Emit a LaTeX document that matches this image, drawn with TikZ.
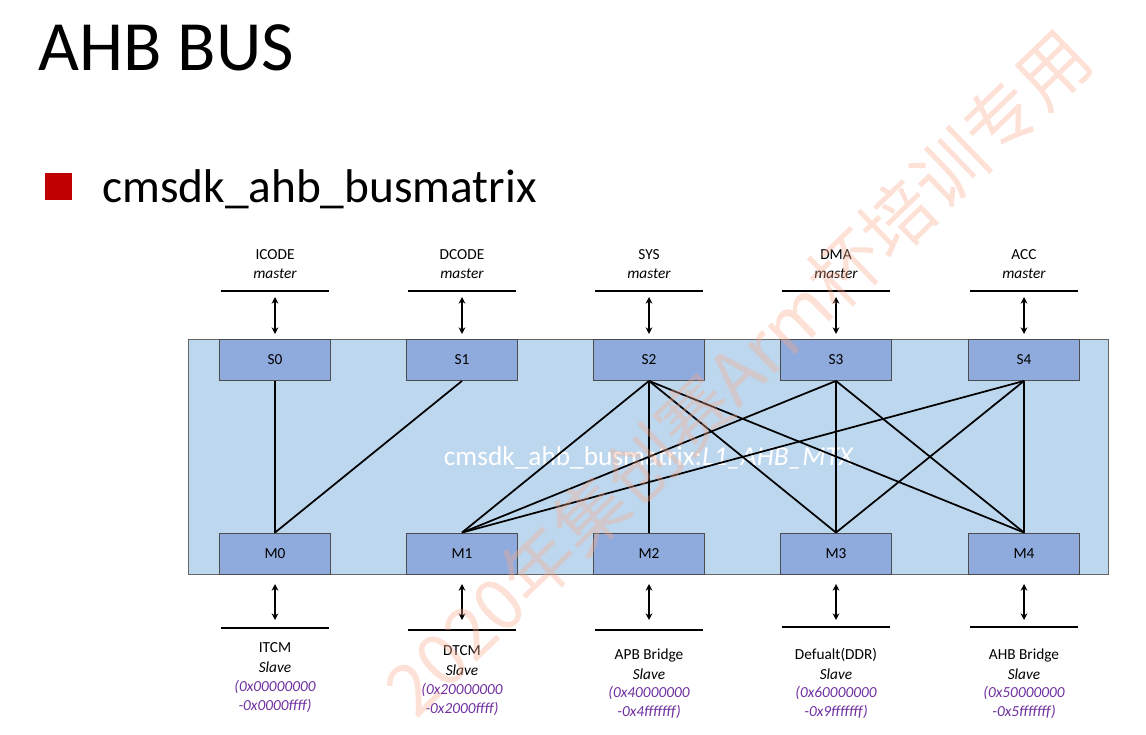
\documentclass[tikz,border=0pt]{standalone}
\usepackage{fontspec}
\usetikzlibrary{arrows.meta}
\setmainfont{Carlito}
\newfontfamily\cjk{Noto Sans CJK SC}
\definecolor{busbg}{RGB}{189,215,238}
\definecolor{portbox}{RGB}{143,170,220}
\definecolor{hexc}{RGB}{112,48,160}
\definecolor{wm}{RGB}{250,170,140}
\definecolor{bullet}{RGB}{192,0,0}
\begin{document}
\begin{tikzpicture}[x=0.75pt,y=-0.75pt,
  port/.style={draw=black!70,fill=portbox,minimum width=83.25pt,minimum height=31pt,inner sep=0pt,font=\fontsize{11.5}{13}\selectfont},
  lbl/.style={font=\fontsize{11.5}{13}\selectfont,inner sep=0pt},
  ilbl/.style={font=\fontsize{11.5}{13}\selectfont\itshape,inner sep=0pt},
  hex/.style={font=\fontsize{11.5}{13}\selectfont\itshape,text=hexc,inner sep=0pt},
  bar/.style={line width=2pt},
  dbl/.style={line width=1.3pt,{Stealth[length=5pt,width=5pt]}-{Stealth[length=5pt,width=5pt]}},
  link/.style={line width=1.3pt}]
\useasboundingbox (0,0) rectangle (1146,735);
\fill[white] (0,0) rectangle (1146,735);
\node[anchor=west,inner sep=0pt,font=\fontsize{53}{58}\selectfont] (title) at (38,48) {AHB BUS};
\fill[bullet] (45,173) rectangle (72,200);
\node[anchor=west,inner sep=0pt,font=\fontsize{35.5}{40}\selectfont] (sub) at (102,189) {cmsdk\_ahb\_busmatrix};
\node[draw=black!60,fill=busbg,minimum width=690pt,minimum height=176.25pt,inner sep=0pt] (bus) at (648,456.5) {};
\node[text=white,font=\fontsize{20.5}{24}\selectfont,inner sep=0pt] (buslbl) at (649,458) {cmsdk\_ahb\_busmatrix:\textit{L1\_AHB\_MTX}};
\foreach \i/\x/\n in {0/275/ICODE,1/462/DCODE,2/649/SYS,3/836/DMA,4/1024/ACC}{
  \node[lbl] (mn\i) at (\x,255) {\n};
  \node[ilbl] (mm\i) at (\x,274) {master};
  \coordinate (tl\i) at (\x-54,291);
  \coordinate (tr\i) at (\x+54,291);
  \draw[bar] (tl\i) -- (tr\i);
  \node[port] (S\i) at (\x,360) {S\i};
  \node[port] (M\i) at (\x,553.5) {M\i};
  \coordinate (ta\i) at (\x,297);
  \coordinate (tb\i) at (\x,334);
  \draw[dbl] (ta\i) -- (tb\i);
  \coordinate (ba\i) at (\x,584);
  \coordinate (bb\i) at (\x,620);
  \draw[dbl] (ba\i) -- (bb\i);
}
\foreach \i/\x/\y in {0/275/628,1/462/630,2/649/630,3/836/627,4/1024/627}{
  \coordinate (bl\i) at (\x-54,\y);
  \coordinate (br\i) at (\x+54,\y);
  \draw[bar] (bl\i) -- (br\i);
}
\node[lbl] (n0) at (275,648) {ITCM};
\node[ilbl] (s0) at (275,667) {Slave};
\node[hex] (h0) at (275,687) {(0x00000000};
\node[hex] (g0) at (275,706) {-0x0000ffff)};
\node[lbl] (n1) at (462,651) {DTCM};
\node[ilbl] (s1) at (462,670) {Slave};
\node[hex] (h1) at (462,690) {(0x20000000};
\node[hex] (g1) at (462,709) {-0x2000ffff)};
\foreach \i/\x/\a/\b/\c in {2/649/APB Bridge/0x40000000/0x4fffffff,3/836/Defualt(DDR)/0x60000000/0x9fffffff,4/1024/AHB Bridge/0x50000000/0x5fffffff}{
  \node[lbl] (n\i) at (\x,655) {\a};
  \node[ilbl] (s\i) at (\x,674) {Slave};
  \node[hex] (h\i) at (\x,693) {(\b};
  \node[hex] (g\i) at (\x,712) {-\c)};
}
\foreach \s/\m in {0/0,1/0,2/1,2/2,2/3,2/4,3/1,3/3,3/4,4/1,4/3,4/4}{
  \draw[link] (S\s.south) -- (M\m.north);
}
\node[rotate=44,text=wm,opacity=0.35,font=\cjk\fontsize{54}{60}\selectfont,inner sep=0pt] (wmark) at (738,372) {2020年集创赛Arm杯培训专用};
\end{tikzpicture}
\end{document}
